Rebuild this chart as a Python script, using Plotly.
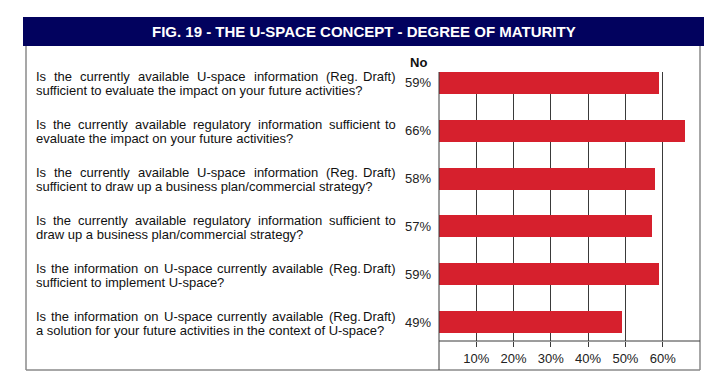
import plotly.graph_objects as go

title_text = "FIG. 19 - THE U-SPACE CONCEPT - DEGREE OF MATURITY"
series_name = "No"
questions = [
    "Is the currently available U-space information (Reg. Draft)<br>sufficient to evaluate the impact on your future activities?",
    "Is the currently available regulatory information sufficient to<br>evaluate the impact on your future activities?",
    "Is the currently available U-space information (Reg. Draft)<br>sufficient to draw up a business plan/commercial strategy?",
    "Is the currently available regulatory information sufficient to<br>draw up a business plan/commercial strategy?",
    "Is the information on U-space currently available (Reg. Draft)<br>sufficient to implement U-space?",
    "Is the information on U-space currently available (Reg. Draft)<br>a solution for your future activities in the context of U-space?",
]
no_values = [59, 66, 58, 57, 59, 49]
tick_values = [10, 20, 30, 40, 50, 60]
tick_labels = ["10%", "20%", "30%", "40%", "50%", "60%"]

W, H = 722, 392
def px(x):
    return x / W
def py(y):
    return 1 - y / H

BAR = "#D6202D"
NAVY = "#02025E"
GRID = "#3a3a3a"
FRAME = "#8a8a8a"
FONT = "Liberation Sans, Arial, sans-serif"
QSIZE = 13.0

# Arial / Liberation Sans advance widths (per 1000 em) for justification
AW = {' ': 278, '(': 333, ')': 333, '-': 333, '.': 278, '/': 278, '?': 556,
      'D': 722, 'I': 278, 'R': 722, 'S': 667, 'U': 722,
      'a': 556, 'b': 556, 'c': 500, 'd': 556, 'e': 556, 'f': 278, 'g': 556,
      'h': 556, 'i': 222, 'j': 222, 'k': 500, 'l': 222, 'm': 833, 'n': 556,
      'o': 556, 'p': 556, 'q': 556, 'r': 333, 's': 500, 't': 278, 'u': 556,
      'v': 500, 'w': 722, 'x': 500, 'y': 500, 'z': 500}
def text_w(s, size):
    return sum(AW.get(c, 556) for c in s) * size / 1000.0

TX0, TX1 = 35, 397   # text column (justified)

cats = list(range(len(questions)))

fig = go.Figure()
fig.add_trace(go.Bar(
    x=no_values, y=cats, orientation="h",
    marker=dict(color=BAR, line=dict(width=0)),
    width=0.46, showlegend=False, hoverinfo="x",
))

annotations = []
qfont = dict(family=FONT, size=QSIZE, color="#111")
for i, (q, v) in enumerate(zip(questions, no_values)):
    lines = q.split("<br>")
    n = len(lines)
    for li, line in enumerate(lines):
        shift = (n - 1) * 7 - li * 14 - 1
        if li < n - 1:
            words = line.split(" ")
            total = sum(text_w(w_, QSIZE) for w_ in words)
            gap = (TX1 - TX0 - total) / (len(words) - 1)
            xcur = TX0
            for wi, word in enumerate(words):
                last = wi == len(words) - 1
                annotations.append(dict(
                    x=px(TX1 if last else xcur), xref="paper", y=i, yref="y", yshift=shift,
                    text=word, showarrow=False, borderpad=0,
                    xanchor="right" if last else "left", yanchor="middle",
                    font=qfont,
                ))
                xcur += text_w(word, QSIZE) + gap
        else:
            annotations.append(dict(
                x=px(TX0), xref="paper", y=i, yref="y", yshift=shift,
                text=line, showarrow=False, borderpad=0,
                xanchor="left", yanchor="middle", font=qfont,
            ))
    annotations.append(dict(
        x=px(432), xref="paper", y=i, yref="y", text=f"{v}%", showarrow=False,
        xanchor="right", yanchor="middle", borderpad=0,
        font=dict(family=FONT, size=13, color="#222"),
    ))
annotations.append(dict(
    x=px(418), xref="paper", y=py(63), yref="paper", text=f"<b>{series_name}</b>",
    showarrow=False, xanchor="center", yanchor="middle",
    font=dict(family=FONT, size=13, color="#111"),
))
annotations.append(dict(
    x=px(364), xref="paper", y=py(31), yref="paper", text=f"<b>{title_text}</b>",
    showarrow=False, xanchor="center", yanchor="middle",
    font=dict(family="Liberation Sans Narrow, Arial Narrow, Liberation Sans, Arial, sans-serif", size=15, color="white"),
))

shapes = [
    dict(type="rect", xref="paper", yref="paper", x0=px(23), x1=px(704), y0=py(46), y1=py(17),
         fillcolor=NAVY, line=dict(width=0), layer="below"),
    dict(type="line", xref="paper", yref="paper", x0=px(26), x1=px(26), y0=py(46), y1=py(370),
         line=dict(color=FRAME, width=1.5)),
    dict(type="line", xref="paper", yref="paper", x0=px(26), x1=px(700), y0=py(370), y1=py(370),
         line=dict(color=FRAME, width=1.5)),
    dict(type="line", xref="paper", yref="paper", x0=px(700), x1=px(700), y0=py(46), y1=py(370),
         line=dict(color=FRAME, width=1.5)),
    dict(type="line", xref="paper", yref="paper", x0=px(439), x1=px(439), y0=py(72), y1=py(370),
         line=dict(color=GRID, width=1)),
    dict(type="line", xref="paper", yref="paper", x0=px(439), x1=px(700), y0=py(341), y1=py(341),
         line=dict(color=GRID, width=1)),
]

fig.update_layout(
    width=W, height=H, margin=dict(l=0, r=0, t=0, b=0),
    paper_bgcolor="white", plot_bgcolor="white",
    font=dict(family=FONT, color="#222"),
    bargap=0,
    xaxis=dict(
        domain=[px(439), px(700)], range=[0, 70],
        tickvals=tick_values, ticktext=tick_labels,
        showgrid=True, gridcolor=GRID, gridwidth=1,
        ticks="outside", ticklen=5, tickcolor=GRID, tickwidth=1,
        tickfont=dict(family=FONT, size=13, color="#222"),
        showline=False, zeroline=False, fixedrange=True,
    ),
    yaxis=dict(
        domain=[py(341), py(72)], range=[5.396, -0.229],
        showticklabels=False, showgrid=False, zeroline=False, showline=False,
        ticks="", fixedrange=True,
    ),
    annotations=annotations,
    shapes=shapes,
)

fig.write_html(
    "out.html",
    config={"displayModeBar": False},
    post_script="document.body.style.margin='0';document.body.style.overflow='hidden';",
)
